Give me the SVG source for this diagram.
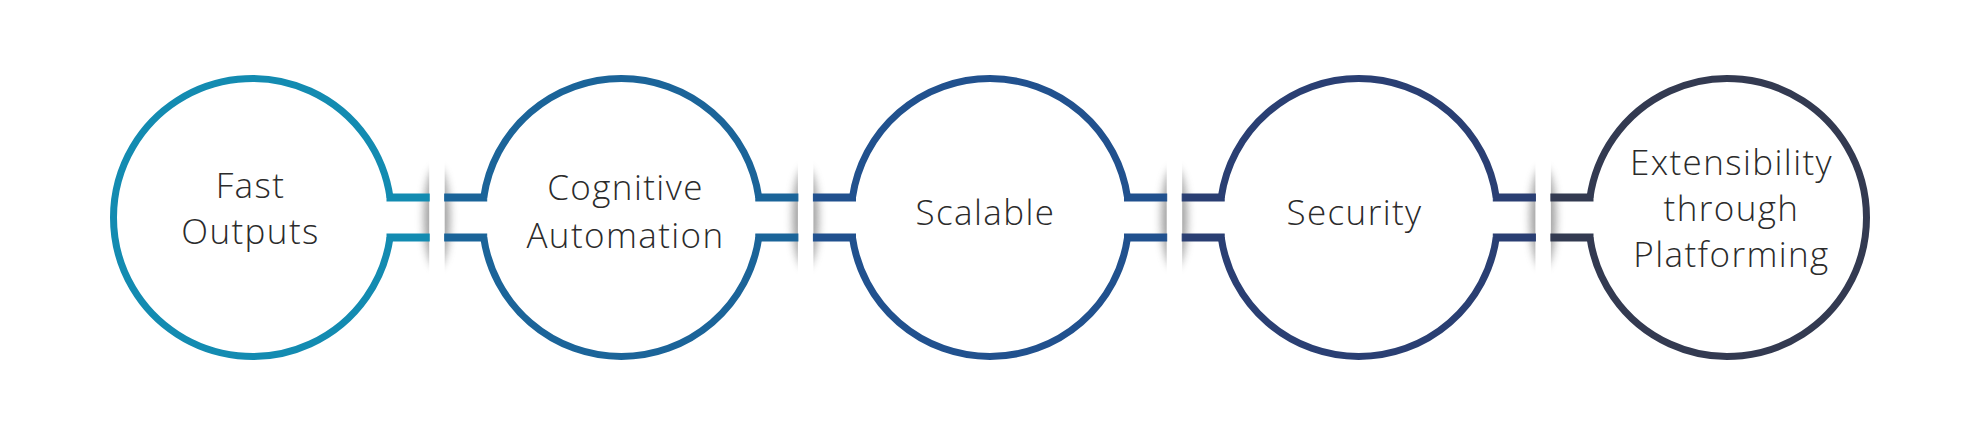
<svg xmlns="http://www.w3.org/2000/svg" width="1980" height="436" viewBox="0 0 1980 436">
  <defs>
    <filter id="blur" x="-100%" y="-50%" width="300%" height="200%">
      <feGaussianBlur stdDeviation="4.5"/>
    </filter>
    <style>
      .ring { fill: none; stroke-width: 7; }
      .lbl { font-family: "Open Sans", "Liberation Sans", sans-serif; font-weight: 300; font-size: 35px; fill: #2b2b2b; text-anchor: middle; letter-spacing: 1.4px; }
      .shadow { fill: #7a7a7a; opacity: 0.7; filter: url(#blur); }
      .gap { fill: #ffffff; }
      .c1 { stroke: #138bb1; fill: #138bb1; }
      .c2 { stroke: #1b6499; fill: #1b6499; }
      .c3 { stroke: #21518e; fill: #21518e; }
      .c4 { stroke: #2a3f73; fill: #2a3f73; }
      .c5 { stroke: #333a51; fill: #333a51; }
    </style>
  </defs>
  <rect width="1980" height="436" fill="#ffffff"/>

  <!-- connectors -->
  <g id="connectors">
    <!-- shadows and gaps -->
    <ellipse class="shadow" cx="436.9" cy="217.5" rx="13" ry="50"/>
    <ellipse class="shadow" cx="805.6" cy="217.5" rx="13" ry="50"/>
    <ellipse class="shadow" cx="1174.4" cy="217.5" rx="13" ry="50"/>
    <ellipse class="shadow" cx="1543.1" cy="217.5" rx="13" ry="50"/>
    <rect class="gap" x="429.2" y="140" width="15.5" height="155"/>
    <rect class="gap" x="797.9" y="140" width="15.5" height="155"/>
    <rect class="gap" x="1166.7" y="140" width="15.5" height="155"/>
    <rect class="gap" x="1535.4" y="140" width="15.5" height="155"/>
    <!-- 1 to 2 -->
    <rect class="c1" x="387" y="194" width="42.2" height="7"/>
    <rect class="c1" x="387" y="234" width="42.2" height="7"/>
    <rect class="c2" x="444.7" y="194" width="42" height="7"/>
    <rect class="c2" x="444.7" y="234" width="42" height="7"/>
    <!-- 2 to 3 -->
    <rect class="c2" x="755.8" y="194" width="42.1" height="7"/>
    <rect class="c2" x="755.8" y="234" width="42.1" height="7"/>
    <rect class="c3" x="813.4" y="194" width="42.1" height="7"/>
    <rect class="c3" x="813.4" y="234" width="42.1" height="7"/>
    <!-- 3 to 4 -->
    <rect class="c3" x="1124.5" y="194" width="42.2" height="7"/>
    <rect class="c3" x="1124.5" y="234" width="42.2" height="7"/>
    <rect class="c4" x="1182.2" y="194" width="42" height="7"/>
    <rect class="c4" x="1182.2" y="234" width="42" height="7"/>
    <!-- 4 to 5 -->
    <rect class="c4" x="1493.3" y="194" width="42.1" height="7"/>
    <rect class="c4" x="1493.3" y="234" width="42.1" height="7"/>
    <rect class="c5" x="1550.9" y="194" width="42.1" height="7"/>
    <rect class="c5" x="1550.9" y="234" width="42.1" height="7"/>
  </g>

  <!-- nodes -->
  <g id="node-fast-outputs">
    <path class="ring c1" style="fill:none" d="M390.05 197.5 A139 139 0 1 0 390.05 237.5"/>
    <text class="lbl" x="250.5" y="198">Fast</text>
    <text class="lbl" x="250.5" y="244">Outputs</text>
  </g>
  <g id="node-cognitive-automation">
    <path class="ring c2" style="fill:none" d="M483.7 197.5 A139 139 0 0 1 758.8 197.5 M758.8 237.5 A139 139 0 0 1 483.7 237.5"/>
    <text class="lbl" x="625.5" y="200">Cognitive</text>
    <text class="lbl" x="625.5" y="248">Automation</text>
  </g>
  <g id="node-scalable">
    <path class="ring c3" style="fill:none" d="M852.45 197.5 A139 139 0 0 1 1127.55 197.5 M1127.55 237.5 A139 139 0 0 1 852.45 237.5"/>
    <text class="lbl" x="985.5" y="225">Scalable</text>
  </g>
  <g id="node-security">
    <path class="ring c4" style="fill:none" d="M1221.2 197.5 A139 139 0 0 1 1496.3 197.5 M1496.3 237.5 A139 139 0 0 1 1221.2 237.5"/>
    <text class="lbl" x="1354.5" y="225">Security</text>
  </g>
  <g id="node-extensibility">
    <path class="ring c5" style="fill:none" d="M1589.95 197.5 A139 139 0 1 1 1589.95 237.5"/>
    <text class="lbl" x="1731.5" y="175">Extensibility</text>
    <text class="lbl" x="1731.5" y="221">through</text>
    <text class="lbl" x="1731.5" y="267">Platforming</text>
  </g>
</svg>
